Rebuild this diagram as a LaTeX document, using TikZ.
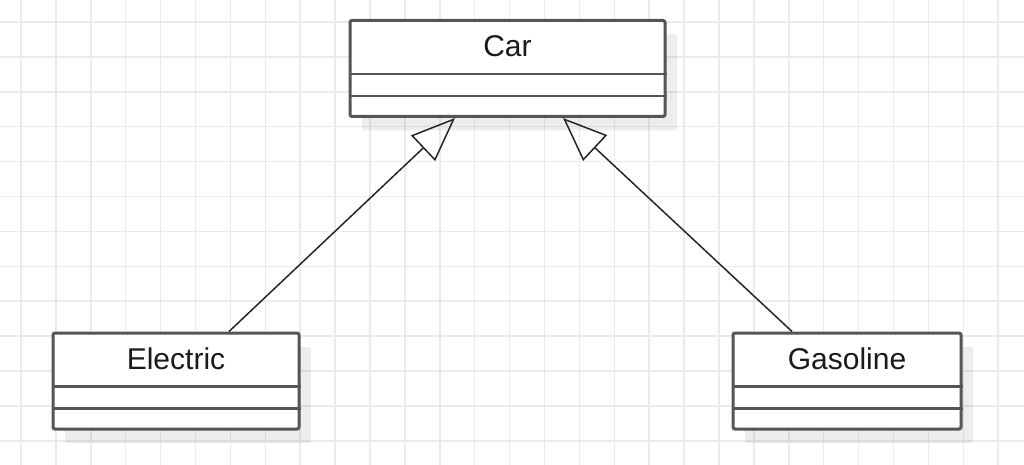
\documentclass[tikz,border=0pt]{standalone}
\usepackage{fontspec}
\setmainfont{Liberation Sans}
\usepackage{tikz}
\usetikzlibrary{positioning}
\usetikzlibrary{arrows.meta}
\usetikzlibrary{shadows}

\definecolor{boxline}{HTML}{555555}
\definecolor{gridgray}{HTML}{EBEBEB}
\definecolor{textcol}{HTML}{1A1A1A}

\begin{document}
\begin{tikzpicture}[x=1pt, y=-1pt,
		classbox/.style={draw=boxline, line width=3pt, rounded corners=2pt, fill=white,
			minimum height=96pt, inner sep=0pt,
			drop shadow={shadow xshift=12pt, shadow yshift=-14pt, fill=black, opacity=0.07}
		},
		classname/.style={anchor=base, text=textcol, font=\fontsize{30}{36}\selectfont},
		divider/.style={draw=boxline, line width=2.5pt},
		gridline/.style={draw=gridgray, line width=1.5pt},
		inherit/.style={draw=black!85, line width=1.5pt, -{Triangle[open, length=44pt, width=35pt]}}
	]
		
		\useasboundingbox (0,0) rectangle (1024,465);
		\fill[white] (0,0) rectangle (1024,465);
		
		%grid
		\foreach \i in {0,...,28}
			\draw[gridline] (21+34.9*\i,0) -- (21+34.9*\i,465);
		\foreach \j in {0,...,12}
			\draw[gridline] (0,22+34.9*\j) -- (1024,22+34.9*\j);
		
		%classes
		\node[classbox, minimum width=315pt] (car) at (507.5,68.5) {};
		\node[classbox, minimum width=246pt] (electric) at (176,381) {};
		\node[classbox, minimum width=228pt] (gasoline) at (847,381) {};
		
		\node[classname] (carname) at ([yshift=-37.5pt]car.north) {Car};
		\node[classname] (electricname) at ([yshift=-37.5pt]electric.north) {Electric};
		\node[classname] (gasolinename) at ([yshift=-37.5pt]gasoline.north) {Gasoline};
		
		%compartments
		\draw[divider] ([yshift=-55pt]car.north west) -- ([yshift=-55pt]car.north east);
		\draw[divider] ([yshift=-77pt]car.north west) -- ([yshift=-77pt]car.north east);
		\draw[divider] ([yshift=-55pt]electric.north west) -- ([yshift=-55pt]electric.north east);
		\draw[divider] ([yshift=-77pt]electric.north west) -- ([yshift=-77pt]electric.north east);
		\draw[divider] ([yshift=-55pt]gasoline.north west) -- ([yshift=-55pt]gasoline.north east);
		\draw[divider] ([yshift=-77pt]gasoline.north west) -- ([yshift=-77pt]gasoline.north east);
		
		%generalisation
		\draw[inherit] ([xshift=53pt]electric.north) -- ([xshift=-52.5pt]car.south);
		\draw[inherit] ([xshift=-55pt]gasoline.north) -- ([xshift=55.5pt]car.south);
	\end{tikzpicture}
\end{document}
